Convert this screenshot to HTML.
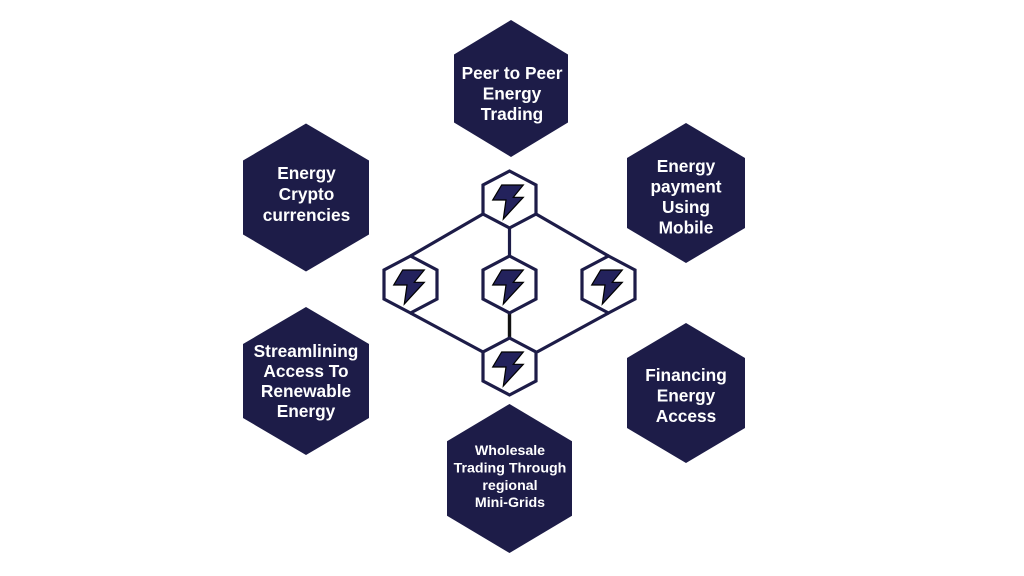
<!DOCTYPE html>
<html>
<head>
<meta charset="utf-8">
<style>
  html,body{margin:0;padding:0;background:#ffffff;}
  body{width:1024px;height:576px;overflow:hidden;}
  svg{display:block;}
  .t{font-family:"Liberation Sans",Arial,sans-serif;font-weight:bold;fill:#ffffff;text-anchor:middle;}
</style>
</head>
<body>
<svg width="1024" height="576" viewBox="0 0 1024 576" xmlns="http://www.w3.org/2000/svg">
  <rect width="1024" height="576" fill="#ffffff"/>

  <!-- Big hexagons -->
  <g fill="#1d1c48">
    <!-- top: center (511,88.5) w57 h68.5 -->
    <polygon points="511,20 568,54.5 568,122.5 511,157 454,122.5 454,54.5"/>
    <!-- Energy Crypto: center (306,197.5) w63 h74 -->
    <polygon points="306,123.5 369,160.5 369,234.5 306,271.5 243,234.5 243,160.5"/>
    <!-- Energy payment: center (686,193) w59 h70 -->
    <polygon points="686,123 745,158 745,228 686,263 627,228 627,158"/>
    <!-- Streamlining: center (306,381) w63 h74 -->
    <polygon points="306,307 369,344 369,418 306,455 243,418 243,344"/>
    <!-- Financing: center (686,393) w59 h70 -->
    <polygon points="686,323 745,358 745,428 686,463 627,428 627,358"/>
    <!-- Wholesale: center (509.5,478.5) w62.5 h74.5 -->
    <polygon points="509.5,404 572,441.25 572,515.75 509.5,553 447,515.75 447,441.25"/>
  </g>

  <!-- Connecting lines -->
  <g stroke="#1d1c48" stroke-width="3.2" fill="none" stroke-linecap="butt">
    <line x1="483" y1="214" x2="410.5" y2="256"/>
    <line x1="536" y1="214" x2="608.5" y2="256"/>
    <line x1="509.5" y1="228" x2="509.5" y2="256"/>
    <line x1="410.5" y1="313" x2="483" y2="352"/>
    <line x1="608.5" y1="313" x2="537" y2="352"/>
  </g>
  <line x1="509.5" y1="313" x2="509.5" y2="338" stroke="#111111" stroke-width="3.4"/>

  <!-- Small hex definitions -->
  <defs>
    <g id="node">
      <polygon points="0,-28.5 26.5,-14.5 26.5,14.5 0,28.5 -26.5,14.5 -26.5,-14.5" fill="#ffffff" stroke="#1d1c48" stroke-width="3.2"/>
      <polygon points="-7.8,-14.5 13.8,-14.5 3.8,-2.2 13.8,-2.2 -6.2,19.5 -3.5,0.5 -16.8,0.5" fill="#23225c" stroke="#000000" stroke-width="1.2" stroke-linejoin="miter"/>
    </g>
  </defs>
  <use href="#node" x="509.5" y="199.5"/>
  <use href="#node" x="410.5" y="284.5"/>
  <use href="#node" x="509.5" y="284.5"/>
  <use href="#node" x="608.5" y="284.5"/>
  <use href="#node" x="509.5" y="366.5"/>

  <!-- Labels -->
  <g class="t" font-size="17.3">
    <text x="512" y="79">Peer to Peer</text>
    <text x="512" y="99.5">Energy</text>
    <text x="512" y="120">Trading</text>

    <text x="306.5" y="179">Energy</text>
    <text x="306.5" y="200">Crypto</text>
    <text x="306.5" y="221">currencies</text>

    <text x="686" y="172">Energy</text>
    <text x="686" y="192.5">payment</text>
    <text x="686" y="213">Using</text>
    <text x="686" y="233.5">Mobile</text>

    <text x="306" y="357">Streamlining</text>
    <text x="306" y="377">Access To</text>
    <text x="306" y="397">Renewable</text>
    <text x="306" y="417">Energy</text>

    <text x="686" y="381">Financing</text>
    <text x="686" y="401.5">Energy</text>
    <text x="686" y="422">Access</text>
  </g>
  <g class="t" font-size="14.2">
    <text x="510" y="455">Wholesale</text>
    <text x="510" y="472.5">Trading Through</text>
    <text x="510" y="490">regional</text>
    <text x="510" y="507">Mini-Grids</text>
  </g>
</svg>
</body>
</html>
